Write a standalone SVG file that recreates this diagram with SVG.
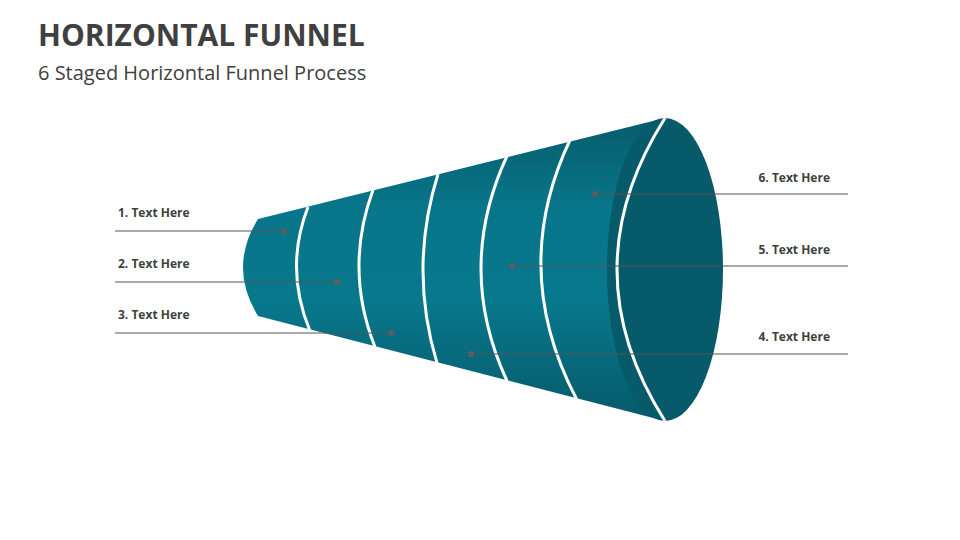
<svg xmlns="http://www.w3.org/2000/svg" width="960" height="540" viewBox="0 0 960 540">
<defs>
<linearGradient id="g" x1="0" y1="118" x2="0" y2="421" gradientUnits="userSpaceOnUse">
<stop offset="0" stop-color="#075c6c"/><stop offset="0.3" stop-color="#08768a"/><stop offset="0.6" stop-color="#08788c"/><stop offset="1" stop-color="#065a6a"/>
</linearGradient>
<style>
.t{font-family:"Open Sans","Liberation Sans",sans-serif;font-weight:bold;font-size:12px;fill:#404040}
.l{stroke:#555;stroke-width:1.2;fill:none}
.d{fill:#5e5e5e}
.w{stroke:#fff;stroke-width:3;fill:none}
</style>
</defs>
<rect width="960" height="540" fill="#fff"/>
<text x="38" y="46" font-family="'Open Sans','Liberation Sans',sans-serif" font-weight="bold" font-size="30" fill="#404040">HORIZONTAL FUNNEL</text>
<text x="38" y="80" font-family="'Open Sans','Liberation Sans',sans-serif" font-size="20" fill="#404040">6 Staged Horizontal Funnel Process</text>
<g id="funnel">
<path d="M258,219 L665,118 L665,421 L258,316 Q228,267.5 258,219 Z" fill="url(#g)"/>
<ellipse cx="665" cy="269.5" rx="58" ry="151.5" fill="#065a69"/>
<path class="w" d="M308,207 Q284,269 310,331"/>
<path class="w" d="M373,190 Q344,268.5 375,347"/>
<path class="w" d="M438,174 Q408.5,268.5 437,363"/>
<path class="w" d="M507,156 Q455,268.5 507,381"/>
<path class="w" d="M570,140 Q508.5,270 577,400"/>
<path class="w" d="M665,118 Q569,269.5 665,421"/>
</g>
<g id="connectors">
<path class="l" d="M115,231H284M115,282H337M115,333H391M595,194H848M512,266H848M471,354H848"/>
<circle class="d" cx="284" cy="231" r="3"/><circle class="d" cx="337" cy="282" r="3"/><circle class="d" cx="391" cy="333" r="3"/>
<circle class="d" cx="595" cy="194" r="3"/><circle class="d" cx="512" cy="266" r="3"/><circle class="d" cx="471" cy="354" r="3"/>
</g>
<g id="label1"><text class="t" x="118" y="217">1. Text Here</text></g>
<g id="label2"><text class="t" x="118" y="268">2. Text Here</text></g>
<g id="label3"><text class="t" x="118" y="319">3. Text Here</text></g>
<g id="label6"><text class="t" x="830" y="182" text-anchor="end">6. Text Here</text></g>
<g id="label5"><text class="t" x="830" y="254" text-anchor="end">5. Text Here</text></g>
<g id="label4"><text class="t" x="830" y="341" text-anchor="end">4. Text Here</text></g>
</svg>
